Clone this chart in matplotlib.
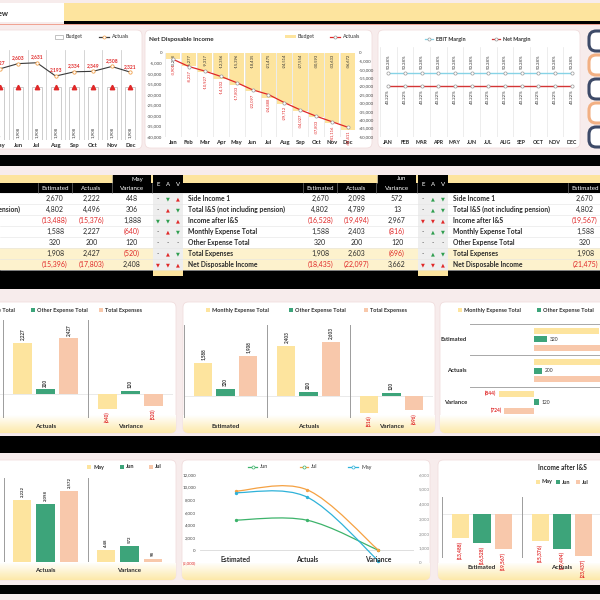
import numpy as np
import matplotlib.pyplot as plt
from matplotlib.patches import Rectangle, FancyBboxPatch, PathPatch
from matplotlib.path import Path
from matplotlib.lines import Line2D
from matplotlib.colors import LinearSegmentedColormap

plt.rcParams['font.family'] = ['Lato', 'DejaVu Sans']

# ==========================
# data
# ==========================

# total expenses, budget vs actuals (only May..Dec visible)
te_months = ['May', 'Jun', 'Jul', 'Aug', 'Sep', 'Oct', 'Nov', 'Dec']
te_budget = [1908, 1908, 1908, 1908, 1908, 1908, 1908, 1908]
te_actual = [2427, 2603, 2631, 2193, 2334, 2349, 2508, 2321]

# net disposable income
months = ['Jan', 'Feb', 'Mar', 'Apr', 'May', 'Jun', 'Jul', 'Aug', 'Sep', 'Oct', 'Nov', 'Dec']
ndi_budget = [-3238, -6277, -9317, -12356, -15396, -18435, -21475, -24514, -27554, -30593, -33633, -36672]
ndi_actual = [-3901, -8237, -10927, -14102, -17803, -22097, -24888, -29712, -34027, -37803, -41116, -44411]

# margins
ebit_margin = [50.28, 50.28, 50.28, 50.28, 50.28, 50.28, 50.28, 50.28, 50.28, 50.28, 50.28, 50.28]
net_margin = [40.22, 40.22, 40.22, 40.22, 40.22, 40.22, 40.22, 40.22, 40.22, 40.22, 40.22, 40.22]

# table
tab_rows = ['Side Income 1', 'Total I&S (not including pension)', 'Income after I&S',
            'Monthly Expense Total', 'Other Expense Total', 'Total Expenses', 'Net Disposable Income']
may_est = [2670, 4802, -13488, 1588, 320, 1908, -15396]
may_act = [2222, 4496, -15376, 2227, 200, 2427, -17803]
may_var = [448, 306, 1888, -640, 120, -520, 2408]
may_eav = [['-', 'dg', 'ur'], ['-', 'ur', 'dg'], ['dg', 'dg', 'ur'], ['-', 'ur', 'dg'],
           ['-', '-', '-'], ['-', 'ur', 'dg'], ['dr', 'dr', 'ur']]
jun_est = [2670, 4802, -16528, 1588, 320, 1908, -18435]
jun_act = [2098, 4789, -19494, 2403, 200, 2603, -22097]
jun_var = [572, 13, 2967, -816, 120, -696, 3662]
jun_eav = [['-', 'ug', 'dg'], ['-', 'ug', 'dg'], ['dr', 'dr', 'ur'], ['-', 'ug', 'dg'],
           ['-', '-', '-'], ['-', 'ug', 'dg'], ['dr', 'dr', 'ur']]
jul_est = [2670, 4802, -19567, 1588, 320, 1908, -21475]

# expense charts
exp_cats = ['Estimated', 'Actuals', 'Variance']
exp_series = ['Monthly Expense Total', 'Other Expense Total', 'Total Expenses']
may_monthly = [1588, 2227, -640]
may_other = [320, 200, 120]
may_total = [1908, 2427, -520]
jun_monthly = [1588, 2403, -816]
jun_other = [320, 200, 120]
jun_total = [1908, 2603, -696]
jul_monthly = [1588, 2432, -844]
jul_other = [320, 200, 120]
jul_total = [1908, 2632, -724]

# side income 1
side_may = [2670, 2222, 448]
side_jun = [2670, 2098, 572]
side_jul = [2670, 2572, 98]

# total I&S lines
ins_jun = [4802, 4789, 13]
ins_jul = [4880, 4977, 880]
ins_may = [4780, 4480, 150]

# income after I&S
iai_may = [-13488, -15376, 1888]
iai_jun = [-16528, -19494, 2967]
iai_jul = [-19567, -23437, 3870]

# ==========================
# style
# ==========================

PINK = '#f7ecec'
YEL = '#fde49e'
GRN = '#3da47a'
PEACH = '#f8c8ab'
RED = '#e02828'
DARK = '#2a2a2a'

W = H = 600
fig = plt.figure(figsize=(6, 6), dpi=100, facecolor=PINK)


def fy(y):
    return 1 - y / H


def box(x0, y0, x1, y1, color, z=0.5, **kw):
    r = Rectangle((x0 / W, fy(y1)), (x1 - x0) / W, (y1 - y0) / H, transform=fig.transFigure,
                  facecolor=color, edgecolor='none', zorder=z, **kw)
    fig.add_artist(r)
    return r


def hline(x0, x1, y, color, lw=0.5, z=0.6):
    fig.add_artist(Line2D([x0 / W, x1 / W], [fy(y), fy(y)], transform=fig.transFigure,
                          color=color, lw=lw, zorder=z))


def vline(x, y0, y1, color, lw=0.5, z=0.6):
    fig.add_artist(Line2D([x / W, x / W], [fy(y0), fy(y1)], transform=fig.transFigure,
                          color=color, lw=lw, zorder=z))


def ftext(x, y, s, **kw):
    kw.setdefault('fontsize', 4)
    kw.setdefault('color', DARK)
    kw.setdefault('va', 'center')
    kw.setdefault('zorder', 3)
    fig.text(x / W, fy(y), s, **kw)


def add_ax(x0, y0, x1, y1, z=2):
    ax = fig.add_axes([x0 / W, fy(y1), (x1 - x0) / W, (y1 - y0) / H])
    ax.set_zorder(z)
    ax.patch.set_visible(False)
    for s in ax.spines.values():
        s.set_visible(False)
    ax.tick_params(length=0)
    return ax


def panel(x0, y0, x1, y1, grad=None):
    p = FancyBboxPatch((x0 / W, fy(y1)), (x1 - x0) / W, (y1 - y0) / H,
                       boxstyle='round,pad=0,rounding_size=0.009', transform=fig.transFigure,
                       facecolor='white', edgecolor='#f1dede', lw=0.6, zorder=0.3)
    fig.add_artist(p)
    if grad is not None:
        gax = fig.add_axes([x0 / W, fy(y1), (x1 - x0) / W, (y1 - grad) / H])
        gax.set_zorder(1)
        gax.axis('off')
        cmap = LinearSegmentedColormap.from_list('g', ['white', '#fde9a9'])
        im = gax.imshow(np.linspace(0, 1, 60).reshape(-1, 1), aspect='auto', cmap=cmap,
                        extent=[0, 1, 0, 1], origin='upper')
        im.set_clip_path(p)


def money(v):
    return f'({abs(v):,})' if v < 0 else f'{v:,}'


def sq_legend(x, y, color, label):
    box(x, y - 2, x + 4, y + 2, color, z=3)
    ftext(x + 6, y, label, fontsize=4, fontweight='bold', color='#333')


def line_legend(x0, x1, y, color, label, mec='#999', fw='normal'):
    hline(x0, x1, y, color, lw=0.9, z=3)
    fig.add_artist(Line2D([(x0 + x1) / 2 / W], [fy(y)], transform=fig.transFigure, marker='o',
                          ms=2.2, mfc='white', mec=mec, mew=0.5, zorder=3.1))
    ftext(x1 + 3, y, label, fontsize=3.9, color='#333', fontweight=fw)


# ==========================
# header strip
# ==========================

box(0, 3, 64, 22, 'white', z=0.4)
ftext(8.5, 13, 'Overview', fontsize=5.5, fontweight='bold', ha='right')
box(64, 3, 600, 21, YEL)
box(64, 21, 600, 23.5, 'black')
box(0, 23.5, 600, 25, '#f0a393')

# ==========================
# row 1 - chart A: total expenses
# ==========================

panel(-10, 30, 142, 149)
axA = add_ax(-9.85, 45, 139.8, 140)
xa = np.arange(len(te_months))
axA.bar(xa, te_budget, 0.53, color='white', edgecolor='#c4c4c4', lw=0.6)
axA.plot(xa, te_budget, '^', color=RED, ms=3.2)
for xi, b in zip(xa, te_budget):
    axA.text(xi, 80, f'{b:,}', rotation=90, ha='center', va='bottom', fontsize=3.2, color='#333')
for b in np.arange(-0.5, len(te_months) + 0.5):
    axA.axvline(b, ymax=0.947, color='#cfcfcf', lw=0.6)
axA.set_xlim(-0.5, len(te_months) - 0.5)
axA.set_ylim(0, 3418)
axA.set_yticks([])
axA.set_xticks(xa, te_months, fontsize=4.2, fontweight='bold', color=DARK)
axA.tick_params(axis='x', pad=2.4)
axA2 = axA.twinx()
axA2.set_zorder(2.1)
axA2.patch.set_visible(False)
for s in axA2.spines.values():
    s.set_visible(False)
axA2.set_yticks([])
axA2.plot(xa, te_actual, color='#3a3a3a', lw=0.8, marker='o', ms=2.4, mfc='white', mec='#f0a04b', mew=0.6)
for xi, v in zip(xa, te_actual):
    axA2.annotate(f'{v:,}', (xi, v), xytext=(0, 2.5), textcoords='offset points', ha='center',
                  va='bottom', fontsize=3.5, color=RED, fontweight='bold')
axA2.set_ylim(90, 3215)
box(55, 35, 63, 38.5, 'white', z=3, lw=0.5)
fig.add_artist(Rectangle((55 / W, fy(38.5)), 8 / W, 3.5 / H, transform=fig.transFigure,
                         facecolor='white', edgecolor='#aaaaaa', lw=0.5, zorder=3))
ftext(66, 36.7, 'Budget', fontsize=3.9, color='#333')
line_legend(99, 109, 36.7, '#3a3a3a', 'Actuals', mec='#f0a04b')

# ==========================
# row 1 - chart B: net disposable income
# ==========================

panel(145, 30, 372, 148)
ftext(149, 40, 'Net Disposable Income', fontsize=4.5, fontweight='bold')
box(285, 35, 296, 38, YEL, z=3)
ftext(298, 36.5, 'Budget', fontsize=3.9, color='#333')
line_legend(330, 340, 36.5, RED, 'Actuals')

axB = add_ax(165, 52.7, 356, 136.7)
xb = np.arange(len(months))
axB.bar(xb, ndi_budget, 0.92, color=YEL)
for b in np.arange(-0.5, len(months) + 0.5):
    axB.axvline(b, color='#e4e4e4', lw=0.5)
for xi, v in zip(xb, ndi_budget):
    axB.text(xi, -600, f'{v:,}', rotation=90, ha='center', va='top', fontsize=3.0, color='#333')
axB.set_xlim(-0.5, len(months) - 0.5)
axB.set_ylim(-40000, 0)
yt = list(range(-40000, 1, 5000))
axB.set_yticks(yt, [f'{v:,}' for v in yt], fontsize=3.2, color='#444')
axB.set_xticks(xb, months, fontsize=4.2, fontweight='bold', color=DARK)
axB.tick_params(axis='x', pad=2.6)
axB.tick_params(axis='y', pad=2)
axB2 = axB.twinx()
axB2.set_zorder(2.1)
axB2.patch.set_visible(False)
for s in axB2.spines.values():
    s.set_visible(False)
axB2.plot(xb, ndi_actual, color=RED, lw=0.9, marker='o', ms=2.3, mfc='white', mec='#999', mew=0.5)
for xi, v in zip(xb, ndi_actual):
    axB2.annotate(f'{v:,}', (xi, v), xytext=(0, -2.5), textcoords='offset points', ha='center',
                  va='top', rotation=90, fontsize=3.0, color=RED)
axB2.set_ylim(-50000, 0)
yt2 = list(range(-50000, 1, 5000))
axB2.set_yticks(yt2, [f'{v:,}' for v in yt2], fontsize=3.2, color='#444')
axB2.tick_params(length=0, pad=2)

# ==========================
# row 1 - chart C: margins
# ==========================

panel(378, 30, 580, 148)
line_legend(425, 433, 39, '#86d3e6', 'EBIT Margin', fw='bold')
line_legend(492, 500, 39, '#d43535', 'Net Margin', fw='bold')
axC = add_ax(380, 47, 580, 137)
xc = np.arange(len(months))
for b in np.arange(-0.5, len(months) + 0.5):
    axC.axvline(b, color='#e6e6e6', lw=0.5)
axC.plot(xc, ebit_margin, color='#86d3e6', lw=1.0, marker='o', ms=2.3, mfc='white', mec='#999', mew=0.5)
axC.plot(xc, net_margin, color='#d43535', lw=1.0, marker='o', ms=2.3, mfc='white', mec='#999', mew=0.5)
for xi, v in zip(xc, ebit_margin):
    axC.annotate(f'{v:.2f}%', (xi, v), xytext=(0, 3), textcoords='offset points', ha='center',
                 va='bottom', rotation=90, fontsize=3.2, color='#333')
for xi, v in zip(xc, net_margin):
    axC.annotate(f'{v:.2f}%', (xi, v), xytext=(0, -3), textcoords='offset points', ha='center',
                 va='top', rotation=90, fontsize=3.2, color='#333')
axC.set_xlim(-0.5, len(months) - 0.5)
axC.set_ylim(0, 70.5)
axC.set_yticks([])
axC.set_xticks(xc, [m.upper() for m in months], fontsize=3.8, fontweight='bold', color=DARK)
axC.tick_params(axis='x', pad=2.2)

# buttons at right edge
for (y0, y1), c in zip([(31, 51), (55, 75), (79, 99), (103, 123), (127, 147)],
                       ['#3d4a68', '#f2b083', '#3d4a68', '#f2b083', '#3d4a68']):
    fig.add_artist(FancyBboxPatch((589 / W, fy(y1)), 30 / W, (y1 - y0) / H,
                                  boxstyle='round,pad=0,rounding_size=0.012', transform=fig.transFigure,
                                  facecolor='white', edgecolor=c, lw=2.2, zorder=0.4))

# ==========================
# table
# ==========================

box(0, 155, 600, 166, 'black')
box(0, 175, 600, 183, YEL)
box(0, 183, 600, 193, 'black')
box(0, 193, 600, 270, 'white')
box(0, 248, 600, 270, '#fdf2cd')
box(0, 270, 600, 289, 'black')
for i in range(8):
    hline(0, 600, 193 + 11 * i, '#e4e4e4', lw=0.4)

sections = [(-82, 'May', may_est, may_act, may_var, may_eav),
            (183, 'Jun', jun_est, jun_act, jun_var, jun_eav),
            (448, 'Jul', jul_est, None, None, None)]

arrows = {'u': '▲', 'd': '▼'}
arrow_col = {'g': '#2f9e4f', 'r': RED}

for L, mon, est, act, var, eav in sections:
    box(L + 195, 175, L + 233, 183, 'black', z=0.55)
    ftext(L + 214, 179, mon, fontsize=4.4, color='white')
    box(L + 235, 175, L + 265, 193, 'black', z=0.55)
    box(L + 235, 193, L + 265, 270, '#eeeeee', z=0.55)
    box(L + 235, 270, L + 265, 276, YEL, z=0.55)
    for xs in [L + 120, L + 154, L + 193.5, L + 234]:
        vline(xs, 183, 193, '#8a8a8a', lw=0.4)
    vline(L + 194, 175, 183, '#8a8a8a', lw=0.4)
    for k, h in enumerate('EAV'):
        ftext(L + 240 + 10 * k, 184, h, fontsize=4.4, color='white', ha='center')
    cols = [(L + 137, 'Estimated', est), (L + 173.5, 'Actuals', act), (L + 214, 'Variance', var)]
    for cx, name, vals in cols:
        ftext(cx, 188.3, name, fontsize=4.5, color='white', ha='center')
        if vals is None:
            continue
        for i, v in enumerate(vals):
            ftext(cx, 198.5 + 11 * i, money(v), fontsize=5, ha='center',
                  color=RED if v < 0 else DARK)
    for i, lab in enumerate(tab_rows):
        ftext(L + 5, 198.5 + 11 * i, lab, fontsize=4.9, fontweight='bold', ha='left')
    if eav is not None:
        for i, row in enumerate(eav):
            for k, t in enumerate(row):
                if t == '-':
                    ftext(L + 240 + 10 * k, 198.5 + 11 * i, '-', fontsize=4.5, ha='center')
                else:
                    ftext(L + 240 + 10 * k, 198.5 + 11 * i, arrows[t[0]], fontsize=3.6, ha='center',
                          color=arrow_col[t[1]], family='DejaVu Sans')


# ==========================
# grouped bar helpers
# ==========================

def vgroup(ax, series, colors, width, off, fs=3.3):
    g = np.arange(3)
    for i, (vals, c) in enumerate(zip(series, colors)):
        xs = g + (i - 1) * off
        ax.bar(xs, vals, width, color=c)
        for xv, v in zip(xs, vals):
            if v >= 0:
                ax.annotate(money(v), (xv, v), xytext=(0, 2), textcoords='offset points', rotation=90,
                            ha='center', va='bottom', fontsize=fs, color='#333', fontweight='bold')
            else:
                ax.annotate(money(v), (xv, v), xytext=(0, -2), textcoords='offset points', rotation=90,
                            ha='center', va='top', fontsize=fs, color=RED, fontweight='bold')
    ax.set_xlim(-0.5, 2.5)
    for b in [-0.5, 0.5, 1.5, 2.5]:
        ax.axvline(b, color='#9c9c9c', lw=0.7)
    ax.axhline(0, color='#e2e2e2', lw=0.5, zorder=0)
    ax.axis('off')


def cat_labels(x0, spacing, y, cats, fs=4.6):
    for k, c in enumerate(cats):
        ftext(x0 + (k + 0.5) * spacing, y, c, fontsize=fs, fontweight='bold', ha='center')


bar_cols = [YEL, GRN, PEACH]

# ==========================
# row 3
# ==========================

panel(-10, 302, 176, 433, grad=415)
ftext(15, 310, 'Monthly Expense Total', fontsize=4, fontweight='bold', ha='right', color='#333')
sq_legend(31, 310, GRN, 'Other Expense Total')
sq_legend(99, 310, PEACH, 'Total Expenses')
axD = add_ax(-82, 320, 173, 418)
vgroup(axD, [may_monthly, may_other, may_total], bar_cols, 0.224, 0.27)
axD.set_ylim(-1048, 3231)
cat_labels(-82, 85, 427, exp_cats)

panel(183, 302, 435, 433, grad=415)
sq_legend(206, 310, YEL, 'Monthly Expense Total')
sq_legend(289, 310, GRN, 'Other Expense Total')
sq_legend(364, 310, PEACH, 'Total Expenses')
axE = add_ax(184, 325, 433, 418)
vgroup(axE, [jun_monthly, jun_other, jun_total], bar_cols, 0.217, 0.27)
axE.set_ylim(-1072, 3400)
cat_labels(184, 83, 427, exp_cats)

panel(440, 302, 615, 433, grad=415)
sq_legend(458, 310, YEL, 'Monthly Expense Total')
sq_legend(537, 310, GRN, 'Other Expense Total')
sq_legend(604, 310, PEACH, 'Total Expenses')
axF = add_ax(470, 323.5, 640, 418)
gF = np.arange(3)
for i, (vals, c) in enumerate(zip([jul_monthly, jul_other, jul_total], bar_cols)):
    ys = gF + (i - 1) * 0.27
    axF.barh(ys, vals, 0.19, color=c)
    for yv, v in zip(ys, vals):
        if v >= 0:
            axF.annotate(money(v), (v, yv), xytext=(2, 0), textcoords='offset points', ha='left',
                         va='center', fontsize=3.6, color='#333')
        else:
            axF.annotate(money(v), (v, yv), xytext=(-2, 0), textcoords='offset points', ha='right',
                         va='center', fontsize=3.6, color=RED, fontweight='bold')
for b in [-0.5, 0.5, 1.5, 2.5]:
    axF.axhline(b, color='#a8a8a8', lw=0.7)
axF.set_ylim(2.5, -0.5)
axF.set_xlim(-1561, 2585)
axF.axis('off')
for k, c in enumerate(exp_cats):
    ftext(467, 339.25 + 31.5 * k, c, fontsize=4.2, fontweight='bold', ha='right')

box(0, 436, 600, 453, 'black')

# ==========================
# row 4
# ==========================

panel(-10, 460, 176, 580, grad=563)
sq_legend(87, 467, YEL, 'May')
sq_legend(120, 467, GRN, 'Jun')
sq_legend(149, 467, PEACH, 'Jul')
axG = add_ax(-80.5, 478, 171.5, 562)
vgroup(axG, [side_may, side_jun, side_jul], bar_cols, 0.22, 0.28, fs=3.1)
axG.set_ylim(0, 3022)
cat_labels(-80.5, 84, 570, exp_cats, fs=4.4)


def smooth(ax, xs, ys, color):
    pts = list(zip(xs, ys))
    n = len(pts)
    verts = [pts[0]]
    codes = [Path.MOVETO]
    for i in range(n - 1):
        p0 = pts[max(i - 1, 0)]
        p1 = pts[i]
        p2 = pts[i + 1]
        p3 = pts[min(i + 2, n - 1)]
        c1 = (p1[0] + (p2[0] - p0[0]) / 6, p1[1] + (p2[1] - p0[1]) / 6)
        c2 = (p2[0] - (p3[0] - p1[0]) / 6, p2[1] - (p3[1] - p1[1]) / 6)
        verts += [c1, c2, p2]
        codes += [Path.CURVE4] * 3
    ax.add_patch(PathPatch(Path(verts, codes), fill=False, edgecolor=color, lw=0.9))
    ax.plot(xs, ys, 'o', ms=1.4, color=color)


panel(182, 460, 430, 580, grad=563)
line_legend(248, 257, 467, '#3db36b', 'Jun', mec='#3db36b')
line_legend(300, 308, 467, '#f5a142', 'Jul', mec='#3db36b')
line_legend(348, 358, 467, '#2fb2d9', 'May', mec='#2fb2d9')
axH = add_ax(200, 474.7, 414, 563)
xh = np.arange(3)
axH.set_xlim(-0.5, 2.5)
axH.set_ylim(-2000, 12000)
axH.axhline(0, color='#d9d9d9', lw=0.6)
smooth(axH, xh, ins_jun, '#3db36b')
ytH = list(range(-2000, 12001, 2000))
axH.set_yticks(ytH, [money(v) for v in ytH], fontsize=3.2, color='#444')
for t, v in zip(axH.get_yticklabels(), ytH):
    if v < 0:
        t.set_color(RED)
axH.set_xticks([])
axH.tick_params(axis='y', pad=3)
axH2 = axH.twinx()
axH2.set_zorder(2.1)
axH2.patch.set_visible(False)
for s in axH2.spines.values():
    s.set_visible(False)
axH2.set_ylim(0, 6000)
smooth(axH2, xh, ins_jul, '#f5a142')
smooth(axH2, xh, ins_may, '#2fb2d9')
ytH2 = list(range(0, 6001, 1000))
axH2.set_yticks(ytH2, [f'{v:,}' for v in ytH2], fontsize=3.2, color='#888')
axH2.tick_params(length=0, pad=3.5)
for k, c in enumerate(exp_cats):
    ftext(235.7 + 71.3 * k, 559.3, c, fontsize=4.9, fontweight='bold', ha='center')

panel(438, 460, 615, 580, grad=563)
ftext(562, 468, 'Income after I&S', fontsize=4.7, fontweight='bold', ha='center')
sq_legend(536, 482, YEL, 'May')
sq_legend(556, 482, GRN, 'Jun')
sq_legend(576, 482, PEACH, 'Jul')
axI = add_ax(442, 497, 682, 558)
vgroup(axI, [iai_may, iai_jun, iai_jul], bar_cols, 0.22, 0.27, fs=3.5)
axI.set_ylim(-24700, 9550)
cat_labels(442, 80, 567.7, exp_cats, fs=4.6)

box(0, 585, 600, 594, 'black')

plt.savefig('out.png', dpi=100, facecolor=PINK)
